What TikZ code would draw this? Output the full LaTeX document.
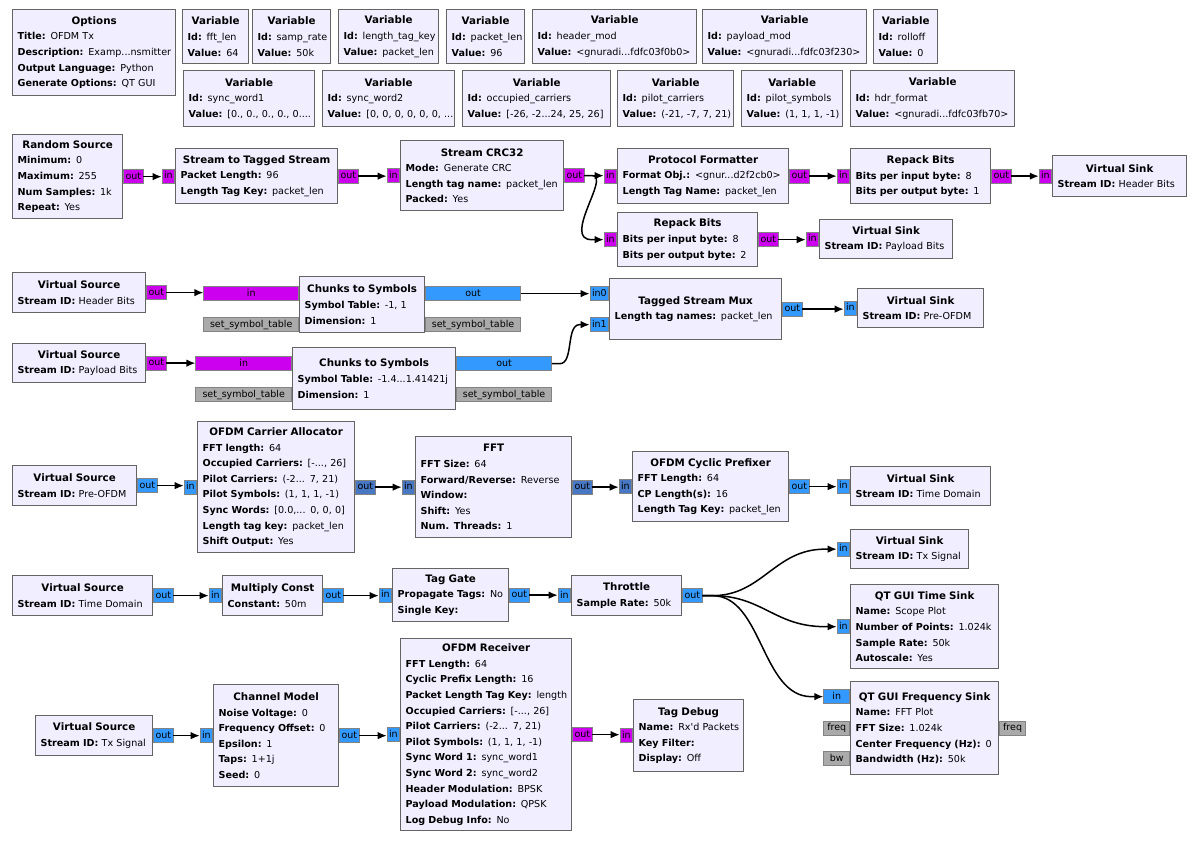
\documentclass[tikz,border=0pt]{standalone}
\usepackage{fontspec}
\setmainfont{DejaVu Sans}
\usepackage{tikz}
\usetikzlibrary{arrows.meta, positioning, calc}

\definecolor{blkfill}{RGB}{240,238,255}
\definecolor{blkdraw}{RGB}{100,100,100}
\definecolor{bytec}{RGB}{204,0,238}
\definecolor{cplxc}{RGB}{51,153,255}
\definecolor{vecc}{RGB}{72,120,196}
\definecolor{msgc}{RGB}{170,170,170}

\setlength{\parindent}{0pt}
\newcommand{\ttl}[1]{{\centering\fontsize{10.3}{15.6}\selectfont\bfseries #1\par}}
\newcommand{\kv}[2]{\par\mbox{\textbf{#1:}\space#2}}

\begin{document}
\begin{tikzpicture}[x=1pt, y=-1pt,
	block/.style = {draw=blkdraw, line width=1.3pt, fill=blkfill, rectangle, anchor=north west,
		inner xsep=5pt, inner ysep=0pt, font=\fontsize{9.6}{15.6}\selectfont},
	port/.style  = {draw=blkdraw!80, line width=0.6pt, rectangle, minimum height=14pt,
		inner xsep=2pt, inner ysep=0pt, text height=7pt, text depth=2pt, font=\fontsize{9.5}{10}\selectfont},
	bport/.style = {port, fill=bytec},
	cport/.style = {port, fill=cplxc},
	vport/.style = {port, fill=vecc},
	mport/.style = {port, fill=msgc},
	wire/.style  = {draw=black, line width=1.5pt, -{Latex[length=9pt,width=7.5pt]}}]

	\fill[white] (0,0) rectangle (1200,843);
	\useasboundingbox (0,0) rectangle (1200,843);

	% options and variables
	\node[block, text width=153pt, minimum height=86pt] (opts) at (12,9) {\ttl{Options}\kv{Title}{OFDM Tx}\kv{Description}{Examp...nsmitter}\kv{Output Language}{Python}\kv{Generate Options}{QT GUI}};

	\node[block, text width=56pt, minimum height=54pt] (vfft) at (182,9) {\ttl{Variable}\kv{Id}{fft\_len}\kv{Value}{64}};
	\node[block, text width=68pt, minimum height=54pt] (vsr) at (252,9) {\ttl{Variable}\kv{Id}{samp\_rate}\kv{Value}{50k}};
	\node[block, text width=90pt, minimum height=54pt] (vltk) at (338,9) {\ttl{Variable}\kv{Id}{length\_tag\_key}\kv{Value}{packet\_len}};
	\node[block, text width=68pt, minimum height=54pt] (vpl) at (446,9) {\ttl{Variable}\kv{Id}{packet\_len}\kv{Value}{96}};
	\node[block, text width=154pt, minimum height=54pt] (vhm) at (532,9) {\ttl{Variable}\kv{Id}{header\_mod}\kv{Value}{<gnuradi...fdfc03f0b0>}};
	\node[block, text width=154pt, minimum height=54pt] (vpm) at (702,9) {\ttl{Variable}\kv{Id}{payload\_mod}\kv{Value}{<gnuradi...fdfc03f230>}};
	\node[block, text width=54pt, minimum height=54pt] (vro) at (873,9) {\ttl{Variable}\kv{Id}{rolloff}\kv{Value}{0}};

	\node[block, text width=121pt, minimum height=56pt] (vsw1) at (183,70) {\ttl{Variable}\kv{Id}{sync\_word1}\kv{Value}{[0., 0., 0., 0., 0....}};
	\node[block, text width=122pt, minimum height=56pt] (vsw2) at (322,70) {\ttl{Variable}\kv{Id}{sync\_word2}\kv{Value}{[0, 0, 0, 0, 0, 0, ...}};
	\node[block, text width=138pt, minimum height=56pt] (voc) at (462,70) {\ttl{Variable}\kv{Id}{occupied\_carriers}\kv{Value}{[-26, -2...24, 25, 26]}};
	\node[block, text width=106pt, minimum height=56pt] (vpc) at (617,70) {\ttl{Variable}\kv{Id}{pilot\_carriers}\kv{Value}{(-21, -7, 7, 21)}};
	\node[block, text width=91pt, minimum height=56pt] (vps) at (741,70) {\ttl{Variable}\kv{Id}{pilot\_symbols}\kv{Value}{(1, 1, 1, -1)}};
	\node[block, text width=154pt, minimum height=56pt] (vhf) at (850,70) {\ttl{Variable}\kv{Id}{hdr\_format}\kv{Value}{<gnuradi...fdfc03fb70>}};

	% packet generation
	\node[block, text width=100pt, minimum height=84pt] (rsrc) at (12,134) {\ttl{Random Source}\kv{Minimum}{0}\kv{Maximum}{255}\kv{Num Samples}{1k}\kv{Repeat}{Yes}};
	\node[block, text width=152pt, minimum height=55pt] (s2ts) at (175,148) {\ttl{Stream to Tagged Stream}\kv{Packet Length}{96}\kv{Length Tag Key}{packet\_len}};
	\node[block, text width=153pt, minimum height=70pt] (crc) at (400,140) {\ttl{Stream CRC32}\kv{Mode}{Generate CRC}\kv{Length tag name}{packet\_len}\kv{Packed}{Yes}};
	\node[block, text width=161pt, minimum height=55pt] (pfmt) at (617,148) {\ttl{Protocol Formatter}\kv{Format Obj.}{<gnur...d2f2cb0>}\kv{Length Tag Name}{packet\_len}};
	\node[block, text width=130pt, minimum height=55pt] (rb1) at (850,148) {\ttl{Repack Bits}\kv{Bits per input byte}{8}\kv{Bits per output byte}{1}};
	\node[block, text width=124pt, minimum height=41pt] (vsk1) at (1052,155) {\ttl{Virtual Sink}\kv{Stream ID}{Header Bits}};
	\node[block, text width=130pt, minimum height=54pt] (rb2) at (617,212) {\ttl{Repack Bits}\kv{Bits per input byte}{8}\kv{Bits per output byte}{2}};
	\node[block, text width=123pt, minimum height=39pt] (vsk2) at (819,219) {\ttl{Virtual Sink}\kv{Stream ID}{Payload Bits}};

	% symbol mapping
	\node[block, text width=123pt, minimum height=40pt] (vsrc1) at (12,272) {\ttl{Virtual Source}\kv{Stream ID}{Header Bits}};
	\node[block, text width=115pt, minimum height=56pt] (cts1) at (299,276) {\ttl{Chunks to Symbols}\kv{Symbol Table}{-1, 1}\kv{Dimension}{1}};
	\node[block, text width=123pt, minimum height=39pt] (vsrc2) at (12,343) {\ttl{Virtual Source}\kv{Stream ID}{Payload Bits}};
	\node[block, text width=153pt, minimum height=62pt] (cts2) at (292,347) {\ttl{Chunks to Symbols}\kv{Symbol Table}{-1.4...1.41421j}\kv{Dimension}{1}};
	\node[block, text width=162pt, minimum height=61pt] (mux) at (609,278) {\ttl{Tagged Stream Mux}\kv{Length tag names}{packet\_len}};
	\node[block, text width=116pt, minimum height=39pt] (vsk3) at (857,288) {\ttl{Virtual Sink}\kv{Stream ID}{Pre-OFDM}};

	% OFDM modulation
	\node[block, text width=114pt, minimum height=40pt] (vsrc3) at (12,465) {\ttl{Virtual Source}\kv{Stream ID}{Pre-OFDM}};
	\node[block, text width=147pt, minimum height=131pt] (alloc) at (197,421) {\ttl{OFDM Carrier Allocator}\kv{FFT length}{64}\kv{Occupied Carriers}{[-..., 26]}\kv{Pilot Carriers}{(-2... 7, 21)}\kv{Pilot Symbols}{(1, 1, 1, -1)}\kv{Sync Words}{[0.0,... 0, 0, 0]}\kv{Length tag key}{packet\_len}\kv{Shift Output}{Yes}};
	\node[block, text width=146pt, minimum height=101pt] (fft) at (415,436) {\ttl{FFT}\kv{FFT Size}{64}\kv{Forward/Reverse}{Reverse}\kv{Window}{}\kv{Shift}{Yes}\kv{Num. Threads}{1}};
	\node[block, text width=146pt, minimum height=70pt] (cp) at (632,451) {\ttl{OFDM Cyclic Prefixer}\kv{FFT Length}{64}\kv{CP Length(s)}{16}\kv{Length Tag Key}{packet\_len}};
	\node[block, text width=130pt, minimum height=39pt] (vsk4) at (850,466) {\ttl{Virtual Sink}\kv{Stream ID}{Time Domain}};

	% output chain and sinks
	\node[block, text width=130pt, minimum height=40pt] (vsrc4) at (12,575) {\ttl{Virtual Source}\kv{Stream ID}{Time Domain}};
	\node[block, text width=90pt, minimum height=40pt] (mult) at (222,575) {\ttl{Multiply Const}\kv{Constant}{50m}};
	\node[block, text width=106pt, minimum height=53pt] (tgate) at (392,568) {\ttl{Tag Gate}\kv{Propagate Tags}{No}\kv{Single Key}{}};
	\node[block, text width=100pt, minimum height=40pt] (thr) at (571,575) {\ttl{Throttle}\kv{Sample Rate}{50k}};
	\node[block, text width=108pt, minimum height=39pt] (vsk5) at (850,529) {\ttl{Virtual Sink}\kv{Stream ID}{Tx Signal}};
	\node[block, text width=138pt, minimum height=84pt] (tsink) at (850,584) {\ttl{QT GUI Time Sink}\kv{Name}{Scope Plot}\kv{Number of Points}{1.024k}\kv{Sample Rate}{50k}\kv{Autoscale}{Yes}};
	\node[block, text width=138pt, minimum height=93pt] (fsink) at (850,681) {\ttl{QT GUI Frequency Sink}\kv{Name}{FFT Plot}\kv{FFT Size}{1.024k}\kv{Center Frequency (Hz)}{0}\kv{Bandwidth (Hz)}{50k}};

	% receiver
	\node[block, text width=107pt, minimum height=40pt] (vsrc5) at (35,715) {\ttl{Virtual Source}\kv{Stream ID}{Tx Signal}};
	\node[block, text width=115pt, minimum height=102pt] (chan) at (213,684) {\ttl{Channel Model}\kv{Noise Voltage}{0}\kv{Frequency Offset}{0}\kv{Epsilon}{1}\kv{Taps}{1+1j}\kv{Seed}{0}};
	\node[block, text width=161pt, minimum height=192pt] (rx) at (400,638) {\ttl{OFDM Receiver}\kv{FFT Length}{64}\kv{Cyclic Prefix Length}{16}\kv{Packet Length Tag Key}{length}\kv{Occupied Carriers}{[-..., 26]}\kv{Pilot Carriers}{(-2... 7, 21)}\kv{Pilot Symbols}{(1, 1, 1, -1)}\kv{Sync Word 1}{sync\_word1}\kv{Sync Word 2}{sync\_word2}\kv{Header Modulation}{BPSK}\kv{Payload Modulation}{QPSK}\kv{Log Debug Info}{No}};
	\node[block, text width=100pt, minimum height=72pt] (tdbg) at (633,699) {\ttl{Tag Debug}\kv{Name}{Rx\textquotesingle d Packets}\kv{Key Filter}{}\kv{Display}{Off}};

	% ports, packet generation
	\node[bport, anchor=west] (rsrc-o) at (rsrc.east) {out};
	\node[bport, anchor=east] (s2ts-i) at (s2ts.west) {in};
	\node[bport, anchor=west] (s2ts-o) at (s2ts.east) {out};
	\node[bport, anchor=east] (crc-i) at (crc.west) {in};
	\node[bport, anchor=west] (crc-o) at (crc.east) {out};
	\node[bport, anchor=east] (pfmt-i) at (pfmt.west) {in};
	\node[bport, anchor=west] (pfmt-o) at (pfmt.east) {out};
	\node[bport, anchor=east] (rb1-i) at (rb1.west) {in};
	\node[bport, anchor=west] (rb1-o) at (rb1.east) {out};
	\node[bport, anchor=east] (vsk1-i) at (vsk1.west) {in};
	\node[bport, anchor=east] (rb2-i) at (rb2.west) {in};
	\node[bport, anchor=west] (rb2-o) at (rb2.east) {out};
	\node[bport, anchor=east] (vsk2-i) at (vsk2.west) {in};

	% ports, symbol mapping
	\node[bport, anchor=west] (vsrc1-o) at (vsrc1.east) {out};
	\node[bport, anchor=east, minimum width=95pt] (cts1-i) at ([yshift=11pt]cts1.west) {in};
	\node[cport, anchor=west, minimum width=95pt] (cts1-o) at ([yshift=11pt]cts1.east) {out};
	\node[mport, anchor=east, minimum width=95pt] (cts1-m) at ([yshift=-20pt]cts1.west) {set\_symbol\_table};
	\node[mport, anchor=west, minimum width=95pt] (cts1-mo) at ([yshift=-20pt]cts1.east) {set\_symbol\_table};
	\node[bport, anchor=west] (vsrc2-o) at (vsrc2.east) {out};
	\node[bport, anchor=east, minimum width=96pt] (cts2-i) at ([yshift=15pt]cts2.west) {in};
	\node[cport, anchor=west, minimum width=95pt] (cts2-o) at ([yshift=15pt]cts2.east) {out};
	\node[mport, anchor=east, minimum width=96pt] (cts2-m) at ([yshift=-16pt]cts2.west) {set\_symbol\_table};
	\node[mport, anchor=west, minimum width=95pt] (cts2-mo) at ([yshift=-16pt]cts2.east) {set\_symbol\_table};
	\node[cport, anchor=east] (mux-i0) at ([yshift=15.5pt]mux.west) {in0};
	\node[cport, anchor=east] (mux-i1) at ([yshift=-15.5pt]mux.west) {in1};
	\node[cport, anchor=west] (mux-o) at (mux.east) {out};
	\node[cport, anchor=east] (vsk3-i) at (vsk3.west) {in};

	% ports, OFDM modulation
	\node[cport, anchor=west] (vsrc3-o) at (vsrc3.east) {out};
	\node[cport, anchor=east] (alloc-i) at (alloc.west) {in};
	\node[vport, anchor=west] (alloc-o) at (alloc.east) {out};
	\node[vport, anchor=east] (fft-i) at (fft.west) {in};
	\node[vport, anchor=west] (fft-o) at (fft.east) {out};
	\node[vport, anchor=east] (cp-i) at (cp.west) {in};
	\node[cport, anchor=west] (cp-o) at (cp.east) {out};
	\node[cport, anchor=east] (vsk4-i) at (vsk4.west) {in};

	% ports, output chain and sinks
	\node[cport, anchor=west] (vsrc4-o) at (vsrc4.east) {out};
	\node[cport, anchor=east] (mult-i) at (mult.west) {in};
	\node[cport, anchor=west] (mult-o) at (mult.east) {out};
	\node[cport, anchor=east] (tgate-i) at (tgate.west) {in};
	\node[cport, anchor=west] (tgate-o) at (tgate.east) {out};
	\node[cport, anchor=east] (thr-i) at (thr.west) {in};
	\node[cport, anchor=west] (thr-o) at (thr.east) {out};
	\node[cport, anchor=east] (vsk5-i) at (vsk5.west) {in};
	\node[cport, anchor=east] (tsink-i) at (tsink.west) {in};
	\node[cport, anchor=east, minimum width=26pt] (fsink-i) at ([yshift=31.5pt]fsink.west) {in};
	\node[mport, anchor=east, minimum width=26pt] (fsink-f) at (fsink.west) {freq};
	\node[mport, anchor=east, minimum width=26pt] (fsink-b) at ([yshift=-30.5pt]fsink.west) {bw};
	\node[mport, anchor=west, minimum width=26pt] (fsink-fo) at (fsink.east) {freq};

	% ports, receiver
	\node[cport, anchor=west] (vsrc5-o) at (vsrc5.east) {out};
	\node[cport, anchor=east] (chan-i) at (chan.west) {in};
	\node[cport, anchor=west] (chan-o) at (chan.east) {out};
	\node[cport, anchor=east] (rx-i) at (rx.west) {in};
	\node[bport, anchor=west] (rx-o) at (rx.east) {out};
	\node[bport, anchor=east] (tdbg-i) at (tdbg.west) {in};

	% straight connections from each out port to the next in port
	\foreach \a/\b in {rsrc/s2ts, s2ts/crc, crc/pfmt, pfmt/rb1, rb1/vsk1, rb2/vsk2,
		vsrc1/cts1, vsrc2/cts2, mux/vsk3, vsrc3/alloc, alloc/fft, fft/cp, cp/vsk4,
		vsrc4/mult, mult/tgate, tgate/thr, vsrc5/chan, chan/rx, rx/tdbg}
	\draw[wire] (\a-o.east) -- (\a-o.east -| \b-i.west);

	\draw[wire] (cts1-o.east) -- (cts1-o.east -| mux-i0.west);

	% curved connections
	\draw[wire] (crc-o.east) -- ++(8,0) .. controls +(18,0) and +(-30,0) .. ([xshift=-12pt]rb2-i.west) -- (rb2-i.west);
	\draw[wire] (cts2-o.east) -- ++(8,0) .. controls +(14,0) and +(-14,0) .. ([xshift=-10pt]mux-i1.west) -- (mux-i1.west);

	\foreach \t in {vsk5, tsink, fsink}
	\draw[wire] (thr-o.east) -- ++(10,0) .. controls +(50,0) and +(-50,0) .. ([xshift=-12pt]\t-i.west) -- (\t-i.west);
\end{tikzpicture}
\end{document}
